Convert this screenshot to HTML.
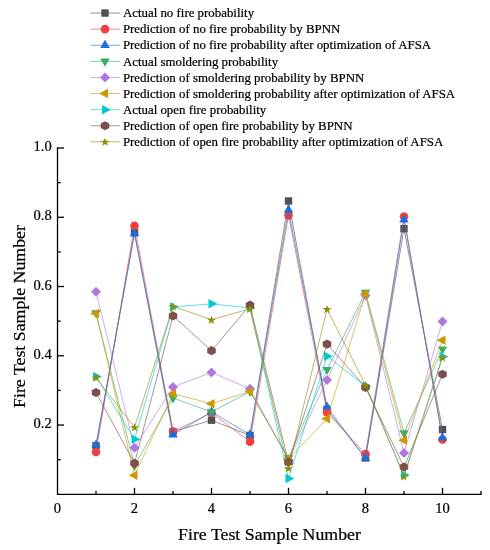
<!DOCTYPE html>
<html><head><meta charset="utf-8"><title>Fire Test Sample Number</title>
<style>
html,body{margin:0;padding:0;background:#fff;}
svg{display:block;}
text{font-family:"Liberation Serif","Times New Roman",serif;fill:#000;stroke:#000;stroke-width:0.22px;}
.tl{font-size:13.7px;}
.al{font-size:16.3px;}
.lg{font-size:12.89px;}
</style></head><body>
<svg width="490" height="550" viewBox="0 0 490 550">
<rect width="490" height="550" fill="#fff"/>

<polyline points="96.00,445.82 134.50,232.67 173.00,431.62 211.50,420.19 250.00,435.43 288.50,200.98 327.00,409.46 365.50,457.94 404.00,228.69 442.50,429.54" fill="none" stroke="#515151" stroke-width="0.8" stroke-opacity="0.78" stroke-linejoin="round"/>
<rect x="92.30" y="442.12" width="7.4" height="7.4" fill="#515151"/>
<rect x="130.80" y="228.97" width="7.4" height="7.4" fill="#515151"/>
<rect x="169.30" y="427.92" width="7.4" height="7.4" fill="#515151"/>
<rect x="207.80" y="416.49" width="7.4" height="7.4" fill="#515151"/>
<rect x="246.30" y="431.73" width="7.4" height="7.4" fill="#515151"/>
<rect x="284.80" y="197.28" width="7.4" height="7.4" fill="#515151"/>
<rect x="323.30" y="405.76" width="7.4" height="7.4" fill="#515151"/>
<rect x="361.80" y="454.24" width="7.4" height="7.4" fill="#515151"/>
<rect x="400.30" y="224.99" width="7.4" height="7.4" fill="#515151"/>
<rect x="438.80" y="425.84" width="7.4" height="7.4" fill="#515151"/>
<polyline points="96.00,452.05 134.50,225.85 173.00,431.62 211.50,412.92 250.00,441.66 288.50,215.36 327.00,412.23 365.50,454.13 404.00,216.57 442.50,439.58" fill="none" stroke="#F14040" stroke-width="0.8" stroke-opacity="0.78" stroke-linejoin="round"/>
<circle cx="96.00" cy="452.05" r="4.3" fill="#F14040"/>
<circle cx="134.50" cy="225.85" r="4.3" fill="#F14040"/>
<circle cx="173.00" cy="431.62" r="4.3" fill="#F14040"/>
<circle cx="211.50" cy="412.92" r="4.3" fill="#F14040"/>
<circle cx="250.00" cy="441.66" r="4.3" fill="#F14040"/>
<circle cx="288.50" cy="215.36" r="4.3" fill="#F14040"/>
<circle cx="327.00" cy="412.23" r="4.3" fill="#F14040"/>
<circle cx="365.50" cy="454.13" r="4.3" fill="#F14040"/>
<circle cx="404.00" cy="216.57" r="4.3" fill="#F14040"/>
<circle cx="442.50" cy="439.58" r="4.3" fill="#F14040"/>
<polyline points="96.00,444.78 134.50,233.54 173.00,434.74 211.50,411.88 250.00,434.74 288.50,209.99 327.00,406.86 365.50,458.11 404.00,219.68 442.50,437.85" fill="none" stroke="#1A6FDF" stroke-width="0.8" stroke-opacity="0.78" stroke-linejoin="round"/>
<polygon points="96.00,439.38 100.75,447.53 91.25,447.53" fill="#1A6FDF"/>
<polygon points="134.50,228.14 139.25,236.29 129.75,236.29" fill="#1A6FDF"/>
<polygon points="173.00,429.34 177.75,437.49 168.25,437.49" fill="#1A6FDF"/>
<polygon points="211.50,406.48 216.25,414.63 206.75,414.63" fill="#1A6FDF"/>
<polygon points="250.00,429.34 254.75,437.49 245.25,437.49" fill="#1A6FDF"/>
<polygon points="288.50,204.59 293.25,212.74 283.75,212.74" fill="#1A6FDF"/>
<polygon points="327.00,401.46 331.75,409.61 322.25,409.61" fill="#1A6FDF"/>
<polygon points="365.50,452.71 370.25,460.86 360.75,460.86" fill="#1A6FDF"/>
<polygon points="404.00,214.28 408.75,222.43 399.25,222.43" fill="#1A6FDF"/>
<polygon points="442.50,432.45 447.25,440.60 437.75,440.60" fill="#1A6FDF"/>
<polyline points="96.00,313.01 134.50,465.56 173.00,398.03 211.50,411.88 250.00,391.62 288.50,457.94 327.00,369.63 365.50,292.41 404.00,433.00 442.50,349.20" fill="none" stroke="#37AD6B" stroke-width="0.8" stroke-opacity="0.78" stroke-linejoin="round"/>
<polygon points="96.00,318.41 100.75,310.26 91.25,310.26" fill="#37AD6B"/>
<polygon points="134.50,470.96 139.25,462.81 129.75,462.81" fill="#37AD6B"/>
<polygon points="173.00,403.43 177.75,395.28 168.25,395.28" fill="#37AD6B"/>
<polygon points="211.50,417.28 216.25,409.13 206.75,409.13" fill="#37AD6B"/>
<polygon points="250.00,397.02 254.75,388.87 245.25,388.87" fill="#37AD6B"/>
<polygon points="288.50,463.34 293.25,455.19 283.75,455.19" fill="#37AD6B"/>
<polygon points="327.00,375.03 331.75,366.88 322.25,366.88" fill="#37AD6B"/>
<polygon points="365.50,297.81 370.25,289.66 360.75,289.66" fill="#37AD6B"/>
<polygon points="404.00,438.40 408.75,430.25 399.25,430.25" fill="#37AD6B"/>
<polygon points="442.50,354.60 447.25,346.45 437.75,346.45" fill="#37AD6B"/>
<polyline points="96.00,291.71 134.50,447.72 173.00,386.95 211.50,372.40 250.00,388.85 288.50,459.67 327.00,380.02 365.50,295.52 404.00,453.09 442.50,321.50" fill="none" stroke="#B177DE" stroke-width="0.8" stroke-opacity="0.78" stroke-linejoin="round"/>
<polygon points="96.00,286.71 101.00,291.71 96.00,296.71 91.00,291.71" fill="#B177DE"/>
<polygon points="134.50,442.72 139.50,447.72 134.50,452.72 129.50,447.72" fill="#B177DE"/>
<polygon points="173.00,381.95 178.00,386.95 173.00,391.95 168.00,386.95" fill="#B177DE"/>
<polygon points="211.50,367.40 216.50,372.40 211.50,377.40 206.50,372.40" fill="#B177DE"/>
<polygon points="250.00,383.85 255.00,388.85 250.00,393.85 245.00,388.85" fill="#B177DE"/>
<polygon points="288.50,454.67 293.50,459.67 288.50,464.67 283.50,459.67" fill="#B177DE"/>
<polygon points="327.00,375.02 332.00,380.02 327.00,385.02 322.00,380.02" fill="#B177DE"/>
<polygon points="365.50,290.52 370.50,295.52 365.50,300.52 360.50,295.52" fill="#B177DE"/>
<polygon points="404.00,448.09 409.00,453.09 404.00,458.09 399.00,453.09" fill="#B177DE"/>
<polygon points="442.50,316.50 447.50,321.50 442.50,326.50 437.50,321.50" fill="#B177DE"/>
<polyline points="96.00,313.53 134.50,475.25 173.00,393.67 211.50,403.67 250.00,391.45 288.50,458.98 327.00,418.81 365.50,293.79 404.00,440.28 442.50,340.20" fill="none" stroke="#CC9900" stroke-width="0.8" stroke-opacity="0.78" stroke-linejoin="round"/>
<polygon points="90.20,313.53 99.00,308.78 99.00,318.28" fill="#CC9900"/>
<polygon points="128.70,475.25 137.50,470.50 137.50,480.00" fill="#CC9900"/>
<polygon points="167.20,393.67 176.00,388.92 176.00,398.42" fill="#CC9900"/>
<polygon points="205.70,403.67 214.50,398.92 214.50,408.42" fill="#CC9900"/>
<polygon points="244.20,391.45 253.00,386.70 253.00,396.20" fill="#CC9900"/>
<polygon points="282.70,458.98 291.50,454.23 291.50,463.73" fill="#CC9900"/>
<polygon points="321.20,418.81 330.00,414.06 330.00,423.56" fill="#CC9900"/>
<polygon points="359.70,293.79 368.50,289.04 368.50,298.54" fill="#CC9900"/>
<polygon points="398.20,440.28 407.00,435.53 407.00,445.03" fill="#CC9900"/>
<polygon points="436.70,340.20 445.50,335.45 445.50,344.95" fill="#CC9900"/>
<polyline points="96.00,376.56 134.50,439.24 173.00,306.95 211.50,303.83 250.00,307.99 288.50,478.61 327.00,356.13 365.50,386.25 404.00,474.91 442.50,356.82" fill="none" stroke="#00CBCC" stroke-width="0.8" stroke-opacity="0.78" stroke-linejoin="round"/>
<polygon points="101.80,376.56 93.00,371.81 93.00,381.31" fill="#00CBCC"/>
<polygon points="140.30,439.24 131.50,434.49 131.50,443.99" fill="#00CBCC"/>
<polygon points="178.80,306.95 170.00,302.20 170.00,311.70" fill="#00CBCC"/>
<polygon points="217.30,303.83 208.50,299.08 208.50,308.58" fill="#00CBCC"/>
<polygon points="255.80,307.99 247.00,303.24 247.00,312.74" fill="#00CBCC"/>
<polygon points="294.30,478.61 285.50,473.86 285.50,483.36" fill="#00CBCC"/>
<polygon points="332.80,356.13 324.00,351.38 324.00,360.88" fill="#00CBCC"/>
<polygon points="371.30,386.25 362.50,381.50 362.50,391.00" fill="#00CBCC"/>
<polygon points="409.80,474.91 401.00,470.16 401.00,479.66" fill="#00CBCC"/>
<polygon points="448.30,356.82 439.50,352.07 439.50,361.57" fill="#00CBCC"/>
<polyline points="96.00,392.49 134.50,463.31 173.00,315.96 211.50,350.69 250.00,305.22 288.50,462.27 327.00,344.08 365.50,387.29 404.00,467.01 442.50,374.27" fill="none" stroke="#7D4E4E" stroke-width="0.8" stroke-opacity="0.78" stroke-linejoin="round"/>
<polygon points="96.00,387.89 100.26,390.19 100.26,394.79 96.00,397.09 91.74,394.79 91.74,390.19" fill="#7D4E4E"/>
<polygon points="134.50,458.71 138.76,461.01 138.76,465.61 134.50,467.91 130.24,465.61 130.24,461.01" fill="#7D4E4E"/>
<polygon points="173.00,311.36 177.26,313.66 177.26,318.26 173.00,320.56 168.74,318.26 168.74,313.66" fill="#7D4E4E"/>
<polygon points="211.50,346.09 215.76,348.39 215.76,352.99 211.50,355.29 207.24,352.99 207.24,348.39" fill="#7D4E4E"/>
<polygon points="250.00,300.62 254.26,302.92 254.26,307.52 250.00,309.82 245.74,307.52 245.74,302.92" fill="#7D4E4E"/>
<polygon points="288.50,457.67 292.76,459.97 292.76,464.57 288.50,466.87 284.24,464.57 284.24,459.97" fill="#7D4E4E"/>
<polygon points="327.00,339.48 331.26,341.78 331.26,346.38 327.00,348.68 322.74,346.38 322.74,341.78" fill="#7D4E4E"/>
<polygon points="365.50,382.69 369.76,384.99 369.76,389.59 365.50,391.89 361.24,389.59 361.24,384.99" fill="#7D4E4E"/>
<polygon points="404.00,462.41 408.26,464.71 408.26,469.31 404.00,471.61 399.74,469.31 399.74,464.71" fill="#7D4E4E"/>
<polygon points="442.50,369.67 446.76,371.97 446.76,376.57 442.50,378.87 438.24,376.57 438.24,371.97" fill="#7D4E4E"/>
<polyline points="96.00,377.67 134.50,427.26 173.00,306.26 211.50,319.76 250.00,308.79 288.50,468.33 327.00,309.10 365.50,384.97 404.00,476.47 442.50,357.51" fill="none" stroke="#8E8E00" stroke-width="0.8" stroke-opacity="0.78" stroke-linejoin="round"/>
<polygon points="96.00,373.47 97.10,376.61 100.55,376.64 97.78,378.62 98.81,381.79 96.00,379.87 93.19,381.79 94.22,378.62 91.45,376.64 94.90,376.61" fill="#8E8E00"/>
<polygon points="134.50,423.06 135.60,426.20 139.05,426.23 136.28,428.21 137.31,431.38 134.50,429.46 131.69,431.38 132.72,428.21 129.95,426.23 133.40,426.20" fill="#8E8E00"/>
<polygon points="173.00,302.06 174.10,305.20 177.55,305.24 174.78,307.22 175.81,310.38 173.00,308.46 170.19,310.38 171.22,307.22 168.45,305.24 171.90,305.20" fill="#8E8E00"/>
<polygon points="211.50,315.56 212.60,318.71 216.05,318.74 213.28,320.72 214.31,323.89 211.50,321.96 208.69,323.89 209.72,320.72 206.95,318.74 210.40,318.71" fill="#8E8E00"/>
<polygon points="250.00,304.59 251.10,307.73 254.55,307.77 251.78,309.74 252.81,312.91 250.00,310.99 247.19,312.91 248.22,309.74 245.45,307.77 248.90,307.73" fill="#8E8E00"/>
<polygon points="288.50,464.13 289.60,467.27 293.05,467.31 290.28,469.28 291.31,472.45 288.50,470.53 285.69,472.45 286.72,469.28 283.95,467.31 287.40,467.27" fill="#8E8E00"/>
<polygon points="327.00,304.90 328.10,308.04 331.55,308.08 328.78,310.05 329.81,313.22 327.00,311.30 324.19,313.22 325.22,310.05 322.45,308.08 325.90,308.04" fill="#8E8E00"/>
<polygon points="365.50,380.77 366.60,383.92 370.05,383.95 367.28,385.93 368.31,389.09 365.50,387.17 362.69,389.09 363.72,385.93 360.95,383.95 364.40,383.92" fill="#8E8E00"/>
<polygon points="404.00,472.27 405.10,475.41 408.55,475.44 405.78,477.42 406.81,480.59 404.00,478.67 401.19,480.59 402.22,477.42 399.45,475.44 402.90,475.41" fill="#8E8E00"/>
<polygon points="442.50,353.31 443.60,356.46 447.05,356.49 444.28,358.47 445.31,361.63 442.50,359.71 439.69,361.63 440.72,358.47 437.95,356.49 441.40,356.46" fill="#8E8E00"/>
<g stroke="#000" stroke-width="1.3" fill="none" stroke-linecap="butt">
<path d="M57.5,147.35 V494.3"/>
<path d="M56.85,494.3 H481.65"/>
<path d="M96.00,494.3 v-3.2"/>
<path d="M134.50,494.3 v-6.5"/>
<path d="M173.00,494.3 v-3.2"/>
<path d="M211.50,494.3 v-6.5"/>
<path d="M250.00,494.3 v-3.2"/>
<path d="M288.50,494.3 v-6.5"/>
<path d="M327.00,494.3 v-3.2"/>
<path d="M365.50,494.3 v-6.5"/>
<path d="M404.00,494.3 v-3.2"/>
<path d="M442.50,494.3 v-6.5"/>
<path d="M481.00,494.3 v-3.2"/>
<path d="M57.5,459.67 h3.2"/>
<path d="M57.5,425.04 h6.5"/>
<path d="M57.5,390.41 h3.2"/>
<path d="M57.5,355.78 h6.5"/>
<path d="M57.5,321.15 h3.2"/>
<path d="M57.5,286.52 h6.5"/>
<path d="M57.5,251.89 h3.2"/>
<path d="M57.5,217.26 h6.5"/>
<path d="M57.5,182.63 h3.2"/>
<path d="M57.5,148.00 h6.5"/>
</g>
<text class="tl" transform="translate(57.50,513.4) scale(1.06,1)" text-anchor="middle">0</text>
<text class="tl" transform="translate(134.50,513.4) scale(1.06,1)" text-anchor="middle">2</text>
<text class="tl" transform="translate(211.50,513.4) scale(1.06,1)" text-anchor="middle">4</text>
<text class="tl" transform="translate(288.50,513.4) scale(1.06,1)" text-anchor="middle">6</text>
<text class="tl" transform="translate(365.50,513.4) scale(1.06,1)" text-anchor="middle">8</text>
<text class="tl" transform="translate(442.50,513.4) scale(1.06,1)" text-anchor="middle">10</text>
<text class="tl" transform="translate(51.7,428.14) scale(1.06,1)" text-anchor="end">0.2</text>
<text class="tl" transform="translate(51.7,358.88) scale(1.06,1)" text-anchor="end">0.4</text>
<text class="tl" transform="translate(51.7,289.62) scale(1.06,1)" text-anchor="end">0.6</text>
<text class="tl" transform="translate(51.7,220.36) scale(1.06,1)" text-anchor="end">0.8</text>
<text class="tl" transform="translate(51.7,151.10) scale(1.06,1)" text-anchor="end">1.0</text>
<text class="al" transform="translate(269.5,539.8) scale(1.093,1)" text-anchor="middle">Fire Test Sample Number</text>
<text class="al" transform="translate(24.5,316.5) rotate(-90) scale(1.093,1)" text-anchor="middle">Fire Test Sample Number</text>
<path d="M90.5,13.05 H119.9" stroke="#515151" stroke-width="0.8" stroke-opacity="0.78"/>
<rect x="101.30" y="9.35" width="7.4" height="7.4" fill="#515151"/>
<text class="lg" x="122.9" y="17.25">Actual no fire probability</text>
<path d="M90.5,29.15 H119.9" stroke="#F14040" stroke-width="0.8" stroke-opacity="0.78"/>
<circle cx="105.00" cy="29.15" r="4.3" fill="#F14040"/>
<text class="lg" x="122.9" y="33.35">Prediction of no fire probability by BPNN</text>
<path d="M90.5,45.25 H119.9" stroke="#1A6FDF" stroke-width="0.8" stroke-opacity="0.78"/>
<polygon points="105.00,39.85 109.75,48.00 100.25,48.00" fill="#1A6FDF"/>
<text class="lg" x="122.9" y="49.45">Prediction of no fire probability after optimization of AFSA</text>
<path d="M90.5,61.35 H119.9" stroke="#37AD6B" stroke-width="0.8" stroke-opacity="0.78"/>
<polygon points="105.00,66.75 109.75,58.60 100.25,58.60" fill="#37AD6B"/>
<text class="lg" x="122.9" y="65.55">Actual smoldering probability</text>
<path d="M90.5,77.45 H119.9" stroke="#B177DE" stroke-width="0.8" stroke-opacity="0.78"/>
<polygon points="105.00,72.45 110.00,77.45 105.00,82.45 100.00,77.45" fill="#B177DE"/>
<text class="lg" x="122.9" y="81.65">Prediction of smoldering probability by BPNN</text>
<path d="M90.5,93.55 H119.9" stroke="#CC9900" stroke-width="0.8" stroke-opacity="0.78"/>
<polygon points="99.20,93.55 108.00,88.80 108.00,98.30" fill="#CC9900"/>
<text class="lg" x="122.9" y="97.75">Prediction of smoldering probability after optimization of AFSA</text>
<path d="M90.5,109.65 H119.9" stroke="#00CBCC" stroke-width="0.8" stroke-opacity="0.78"/>
<polygon points="110.80,109.65 102.00,104.90 102.00,114.40" fill="#00CBCC"/>
<text class="lg" x="122.9" y="113.85">Actual open fire probability</text>
<path d="M90.5,125.75 H119.9" stroke="#7D4E4E" stroke-width="0.8" stroke-opacity="0.78"/>
<polygon points="105.00,121.15 109.26,123.45 109.26,128.05 105.00,130.35 100.74,128.05 100.74,123.45" fill="#7D4E4E"/>
<text class="lg" x="122.9" y="129.95">Prediction of open fire probability by BPNN</text>
<path d="M90.5,141.85 H119.9" stroke="#8E8E00" stroke-width="0.8" stroke-opacity="0.78"/>
<polygon points="105.00,137.65 106.10,140.79 109.55,140.83 106.78,142.81 107.81,145.97 105.00,144.05 102.19,145.97 103.22,142.81 100.45,140.83 103.90,140.79" fill="#8E8E00"/>
<text class="lg" x="122.9" y="146.05">Prediction of open fire probability after optimization of AFSA</text>
</svg></body></html>
